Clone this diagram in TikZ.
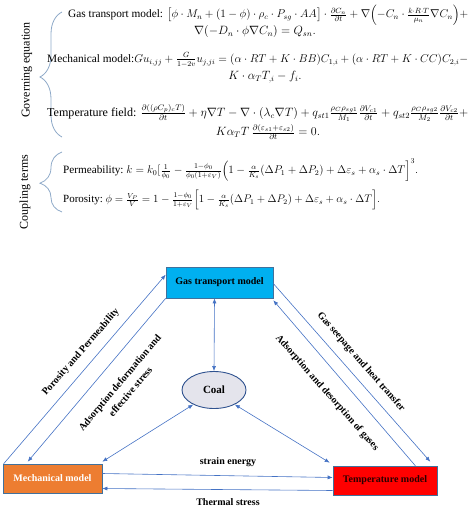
\documentclass[tikz,border=0pt]{standalone}
\usepackage{amsmath}
\usepackage{graphicx}
\usepackage{fontspec}
\setmainfont{Liberation Serif}
\usetikzlibrary{arrows.meta,shapes.geometric,decorations.pathreplacing}

\definecolor{linkblue}{HTML}{4472C4}
\definecolor{boxedge}{HTML}{41719C}
\definecolor{gasblue}{HTML}{00B0F0}
\definecolor{mechorange}{HTML}{ED7D31}
\definecolor{tempred}{HTML}{FF0000}
\definecolor{tempdark}{HTML}{2A0000}
\definecolor{coalgray}{HTML}{E4E4EC}
\definecolor{coaledge}{HTML}{2F528F}
\definecolor{braceblue}{HTML}{8EA9C8}

\begin{document}
\begin{tikzpicture}[x=1pt,y=-1pt,
  eq node/.style={inner sep=0pt,font=\fontsize{12}{14}\selectfont},
  side label/.style={rotate=90,inner sep=0pt,font=\fontsize{12}{14}\selectfont},
  brace line/.style={draw=braceblue,line width=0.8pt,decorate,
    decoration={brace,amplitude=22pt,aspect=0.48}},
  model node/.style={rectangle,draw=boxedge,line width=0.6pt,inner sep=0pt,
    font=\fontsize{10}{12}\selectfont\bfseries},
  link/.style={draw=linkblue,line width=0.6pt,-{Latex[length=5pt,width=4pt]}},
  both link/.style={draw=linkblue,line width=0.6pt,
    {Latex[length=5pt,width=4pt]}-{Latex[length=5pt,width=4pt]}},
  link label/.style={inner sep=0pt,align=center,
    font=\fontsize{10}{14}\selectfont\bfseries}]

  \useasboundingbox (0,0) rectangle (474,510);

  % equations
  \node[side label] (govlbl) at (27,70) {Governing equation};
  \node[side label] (couplbl) at (25,192) {Coupling terms};
  \draw[brace line] (62,137) -- (62,12);
  \draw[brace line] (62,212) -- (62,152);

  \node[eq node,anchor=base west] (gaseq) at (68,18) {\resizebox{400pt}{!}{Gas transport model: $\bigl[\phi\cdot M_n+(1-\phi)\cdot\rho_c\cdot P_{sg}\cdot AA\bigr]\cdot\frac{\partial C_n}{\partial t}+\nabla\Bigl(-C_n\cdot\frac{k\cdot R\cdot T}{\mu_n}\nabla C_n\Bigr)+$}};
  \node[eq node] (gaseqb) at (255,32) {$\nabla(-D_n\cdot\phi\nabla C_n)=Q_{sn}.$};
  \node[eq node,anchor=west] (mecheq) at (47,60) {\resizebox{421pt}{!}{Mechanical model:$Gu_{i,jj}+\frac{G}{1-2v}u_{j,ji}=(\alpha\cdot RT+K\cdot BB)C_{1,i}+(\alpha\cdot RT+K\cdot CC)C_{2,i}-$}};
  \node[eq node] (mecheqb) at (265,77) {$K\cdot\alpha_T T_{,i}-f_i.$};
  \node[eq node,anchor=west] (tempeq) at (47,113) {\resizebox{421pt}{!}{Temperature field: $\frac{\partial\left((\rho C_p)_c T\right)}{\partial t}+\eta\nabla T-\nabla\cdot(\lambda_c\nabla T)+q_{st1}\frac{\rho_C\rho_{sg1}}{M_1}\frac{\partial V_{c1}}{\partial t}+q_{st2}\frac{\rho_C\rho_{sg2}}{M_2}\frac{\partial V_{c2}}{\partial t}+$}};
  \node[eq node] (tempeqb) at (268,132) {$K\alpha_T T\,\frac{\partial(\varepsilon_{s1}+\varepsilon_{s2})}{\partial t}=0.$};
  \node[eq node,anchor=west] (permeq) at (63,170) {\resizebox{355pt}{!}{Permeability:\ $k=k_0[\frac{1}{\phi_0}-\frac{1-\phi_0}{\phi_0(1+\varepsilon_V)}\Bigl(1-\frac{\alpha}{K_s}(\Delta P_1+\Delta P_2)+\Delta\varepsilon_s+\alpha_s\cdot\Delta T\Bigr]^3.$}};
  \node[eq node,anchor=west] (poreq) at (63,200) {\resizebox{317pt}{!}{Porosity:\ $\phi=\frac{V_P}{V}=1-\frac{1-\phi_0}{1+\varepsilon_V}\Bigl[1-\frac{\alpha}{K_s}(\Delta P_1+\Delta P_2)+\Delta\varepsilon_s+\alpha_s\cdot\Delta T\Bigr].$}};

  % models
  \node[model node,fill=gasblue,minimum width=107pt,minimum height=31pt] (gas) at (219.5,282.5) {Gas transport model};
  \node[model node,fill=mechorange,text=white,minimum width=99pt,minimum height=29pt] (mech) at (52.5,478.5) {Mechanical model};
  \node[model node,fill=tempred,text=tempdark,minimum width=104pt,minimum height=29pt] (temp) at (385,480.5) {Temperature model};
  \node[ellipse,draw=coaledge,fill=coalgray,line width=0.9pt,minimum width=64pt,minimum height=37pt,inner sep=0pt,
    font=\fontsize{11}{13}\selectfont\bfseries] (coal) at (214,390) {Coal};

  \draw[link] ([xshift=1pt]mech.north west) -- ([yshift=-8pt]gas.north west);
  \draw[link] (gas.south west) -- ([xshift=25pt,yshift=2pt]mech.north west);
  \draw[both link] ([xshift=-5pt]gas.south) -- (coal.north);
  \draw[both link] (coal.215) -- ([yshift=2pt]mech.north east);
  \draw[both link] (coal.-35) -- ([xshift=-3pt,yshift=3pt]temp.north west);
  \draw[link] ([yshift=-1pt]gas.east) -- ([xshift=-7pt,yshift=4pt]temp.north east);
  \draw[link] ([xshift=-22pt]temp.north east) -- ([yshift=-2pt]gas.south east);
  \draw[link] ([yshift=5pt]mech.east) -- ([yshift=3pt]temp.west);
  \draw[link] ([yshift=-10pt]temp.west) -- ([yshift=-10pt]mech.east);

  \node[link label,rotate=49] (porlbl) at (81,352) {Porosity and Permeability};
  \node[link label,rotate=50] (adslbl) at (125,387) {Adsorption deformation and\\effective stress};
  \node[link label,rotate=-49] (seeplbl) at (361,362) {Gas seepage and heat transfer};
  \node[link label,rotate=-48.5] (desorlbl) at (327,393) {Adsorption and desorption of gases};
  \node[link label] (strainlbl) at (228,462) {strain energy};
  \node[link label] (thermlbl) at (228,502) {Thermal stress};
\end{tikzpicture}
\end{document}
